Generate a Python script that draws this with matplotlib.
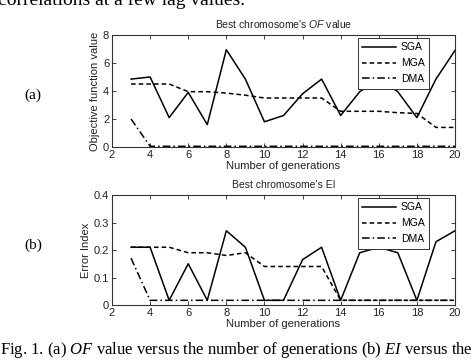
import matplotlib
matplotlib.use("Agg")
import matplotlib.pyplot as plt

# generations on the x axis
gens = list(range(3, 21))

# (a) best chromosome's objective function value
of_sga = [4.85, 5.0, 2.1, 3.9, 1.6, 6.95, 4.85, 1.8, 2.25, 3.8, 4.85, 2.25, 3.95, 4.85, 3.95, 2.1, 4.85, 6.9]
of_mga = [4.5, 4.5, 4.5, 3.95, 3.95, 3.85, 3.7, 3.5, 3.5, 3.5, 3.5, 2.55, 2.55, 2.55, 2.45, 2.4, 1.4, 1.4]
of_dma = [2.0, 0.05, 0.05, 0.05, 0.05, 0.05, 0.05, 0.05, 0.05, 0.05, 0.05, 0.05, 0.05, 0.05, 0.05, 0.05, 0.05, 0.05]

# (b) best chromosome's error index
ei_sga = [0.21, 0.21, 0.017, 0.15, 0.017, 0.27, 0.21, 0.017, 0.017, 0.165, 0.21, 0.017, 0.19, 0.21, 0.19, 0.017, 0.23, 0.27]
ei_mga = [0.21, 0.21, 0.21, 0.19, 0.19, 0.18, 0.19, 0.14, 0.14, 0.14, 0.14, 0.017, 0.017, 0.017, 0.017, 0.017, 0.017, 0.017]
ei_dma = [0.17, 0.017, 0.017, 0.017, 0.017, 0.017, 0.017, 0.017, 0.017, 0.017, 0.017, 0.017, 0.017, 0.017, 0.017, 0.017, 0.017, 0.017]

plt.rcParams['font.family'] = ['Liberation Sans', 'DejaVu Sans']
plt.rcParams['mathtext.fontset'] = 'custom'
plt.rcParams['mathtext.sf'] = 'Liberation Sans:italic'
plt.rcParams['mathtext.it'] = 'Liberation Serif:italic'
plt.rcParams['mathtext.rm'] = 'Liberation Serif'

W, H = 474, 361
fig = plt.figure(figsize=(W / 100, H / 100), dpi=100)


def px_axes(x0, y0, x1, y1):
    return fig.add_axes([x0 / W, 1 - y1 / H, (x1 - x0) / W, (y1 - y0) / H])


def style(ax, ylim, yticks, ylabel, title):
    ax.set_xlim(2, 20)
    ax.set_ylim(*ylim)
    ax.set_xticks(range(2, 21, 2))
    ax.set_yticks(yticks)
    ax.tick_params(direction='in', top=True, right=True, labelsize=8,
                   length=3, width=0.6, pad=2, colors='#222222')
    for s in ax.spines.values():
        s.set_linewidth(0.8)
        s.set_color('#333333')
    ax.set_xlabel('Number of generations', fontsize=8, labelpad=1, color='#222222')
    ax.set_ylabel(ylabel, fontsize=8, labelpad=2, color='#222222')
    ax.set_title(title, fontsize=7.5, pad=5, color='#222222')
    leg = ax.legend(loc='upper right', bbox_to_anchor=(0.925, 0.975), fontsize=7.5,
                    handlelength=3.2, handletextpad=0.5, labelspacing=0.55,
                    borderpad=0.45, borderaxespad=0, fancybox=False, framealpha=1,
                    edgecolor='#333333')
    leg.get_frame().set_linewidth(0.7)


lw = 1.1
ax1 = px_axes(112, 35, 455, 147)
ax1.plot(gens, of_sga, '-', color='black', lw=lw, label='SGA')
ax1.plot(gens, of_mga, '--', color='black', lw=lw, dashes=(3, 2), label='MGA')
ax1.plot(gens, of_dma, '-.', color='black', lw=lw, dashes=(5, 2, 1, 2), label='DMA')
style(ax1, (0, 8), [0, 2, 4, 6, 8], 'Objective function value',
      r"Best chromosome's $\mathsf{OF}$ value")

ax2 = px_axes(112, 195, 455, 305)
ax2.plot(gens, ei_sga, '-', color='black', lw=lw, label='SGA')
ax2.plot(gens, ei_mga, '--', color='black', lw=lw, dashes=(3, 2), label='MGA')
ax2.plot(gens, ei_dma, '-.', color='black', lw=lw, dashes=(5, 2, 1, 2), label='DMA')
style(ax2, (0, 0.4), [0, 0.1, 0.2, 0.3, 0.4], 'Error Index',
      "Best chromosome's EI")
ax2.set_yticklabels(['0', '0.1', '0.2', '0.3', '0.4'])

serif = ['Liberation Serif', 'DejaVu Serif']
fig.text(33 / W, 1 - 95 / H, '(a)', family=serif, fontsize=11, ha='center', va='center')
fig.text(33 / W, 1 - 245 / H, '(b)', family=serif, fontsize=11, ha='center', va='center')

# text fragments of the surrounding page, cut by the crop
fig.text(-2 / W, 1 - 5 / H, 'correlations at a few lag values.', family=serif,
         fontsize=14, ha='left', va='baseline')
fig.text(0 / W, 1 - 354 / H,
         r'Fig. 1. (a) $\mathit{OF}$ value versus the number of generations (b) $\mathit{EI}$ versus the',
         family=serif, fontsize=12, ha='left', va='baseline')

fig.savefig('out.png', dpi=100)
